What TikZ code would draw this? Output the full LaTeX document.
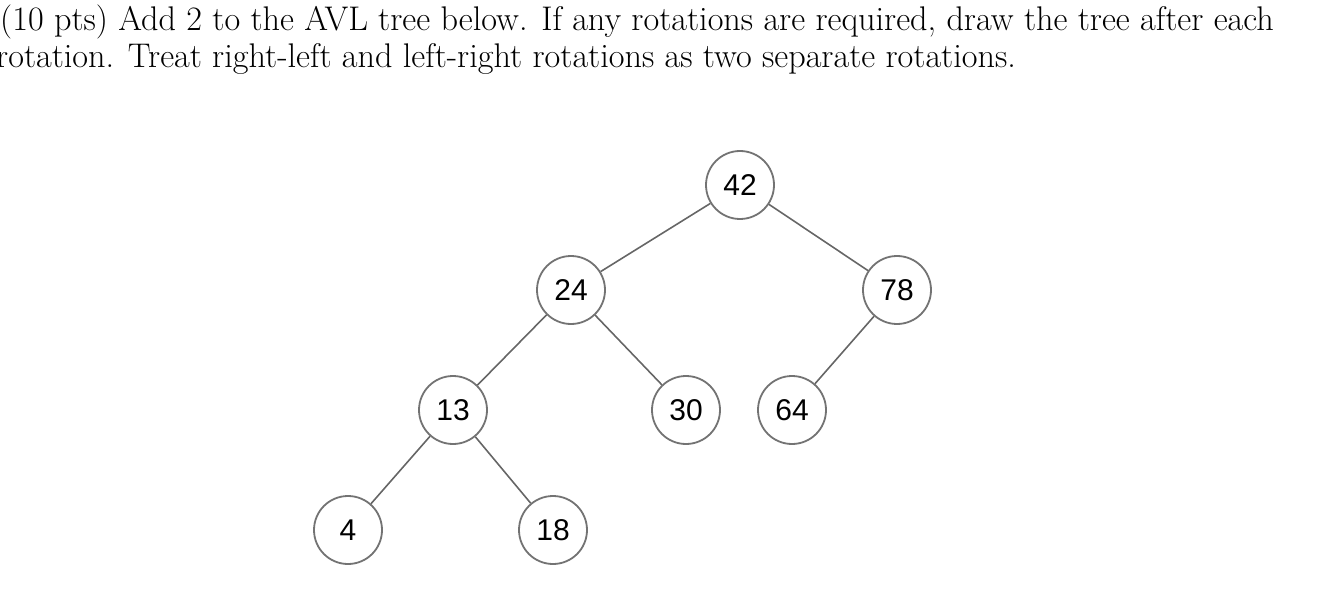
\documentclass[tikz,border=0pt]{standalone}
\usepackage{fontspec}
\newfontfamily\lab{Liberation Sans}
\begin{document}
\begin{tikzpicture}[x=1pt,y=-1pt,
  nd/.style={circle,draw=black!55,line width=1.8pt,minimum size=68pt,inner sep=0pt,font=\lab\fontsize{30}{32}\selectfont,fill=white},
  ed/.style={draw=black!60,line width=1.6pt},
  tx/.style={anchor=base west,inner sep=0pt,font=\fontsize{34.2}{38}\selectfont}]
\useasboundingbox (0,0) rectangle (1328,604);
\node[tx] (l1) at (0,31) {(10 pts) Add 2 to the AVL tree below. If any rotations are required, draw the tree after each};
\node[tx] (l2) at (-4,68) {rotation. Treat right-left and left-right rotations as two separate rotations.};
\node[nd] (n42) at (740,185) {42};
\node[nd] (n24) at (571,290) {24};
\node[nd] (n78) at (897,290) {78};
\node[nd] (n13) at (453,410) {13};
\node[nd] (n30) at (686,410) {30};
\node[nd] (n64) at (792,410) {64};
\node[nd] (n4) at (348,530) {4};
\node[nd] (n18) at (553,530) {18};
\draw[ed] (n42)--(n24); \draw[ed] (n42)--(n78);
\draw[ed] (n24)--(n13); \draw[ed] (n24)--(n30);
\draw[ed] (n78)--(n64);
\draw[ed] (n13)--(n4); \draw[ed] (n13)--(n18);
\end{tikzpicture}
\end{document}
